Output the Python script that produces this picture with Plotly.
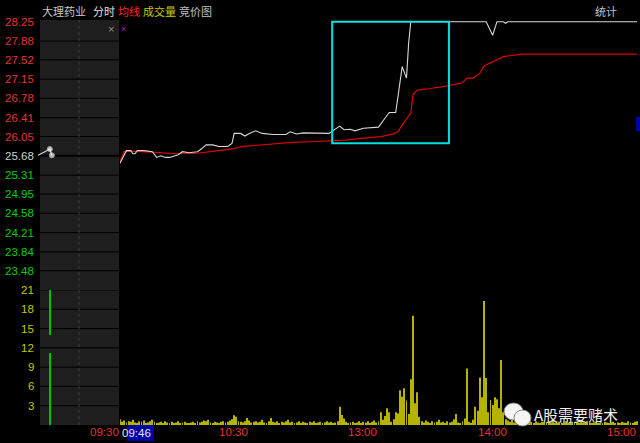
import plotly.graph_objects as go

W, H = 640, 443

# ---------------- data ----------------
STOCK_NAME = "大理药业"
TAB_LABELS = ["分时", "均线", "成交量", "竞价图"]
STAT_LABEL = "统计"
WATERMARK = "A股需要赌术"
PREV_CLOSE = 25.68
PRICE_TICKS = [28.25, 27.88, 27.52, 27.15, 26.78, 26.41, 26.05, 25.68,
               25.31, 24.95, 24.58, 24.21, 23.84, 23.48]
VOL_TICKS = [21, 18, 15, 12, 9, 6, 3]
TIME_TICK_LABELS = ["09:30", "10:30", "13:00", "14:00", "15:00"]
TIME_TICK_POS = [0, 60, 120, 180, 240]          # trading minutes since 09:30
CURSOR_LABEL = "09:46"
CURSOR_POS = 16

# price line (trading minute, price)
PRICE_T = [0, 1, 3, 5, 6, 7, 8, 11, 15, 17, 19, 21, 23, 27, 29, 32, 36, 38, 40, 43,
           46, 50, 52, 53, 56, 58, 60, 63, 66, 71, 77, 79, 82, 85, 91, 97, 102, 104,
           107, 109, 113, 120, 123, 125, 128, 129, 131, 133, 134, 135, 170, 173, 175,
           178, 179, 180, 240]
PRICE_V = [25.54, 25.63, 25.78, 25.78, 25.72, 25.72, 25.78, 25.78, 25.76, 25.65,
           25.68, 25.65, 25.65, 25.70, 25.76, 25.74, 25.76, 25.82, 25.89, 25.89,
           25.86, 25.86, 25.92, 26.11, 26.11, 26.06, 26.11, 26.16, 26.11, 26.09,
           26.09, 26.14, 26.10, 26.12, 26.11, 26.11, 26.25, 26.18, 26.19, 26.16,
           26.21, 26.23, 26.40, 26.51, 26.51, 26.78, 27.39, 27.17, 27.84, 28.25,
           28.25, 27.99, 28.25, 28.25, 28.22, 28.25, 28.25]

# average price line
AVG_T = [0, 2, 5, 11, 15, 26, 36, 42, 53, 57, 65, 73, 80, 88, 97, 105, 113, 121,
         127, 129, 132, 135, 136, 138, 144, 152, 159, 161, 164, 167, 169, 172, 176,
         178, 183, 187, 206, 240]
AVG_V = [25.57, 25.76, 25.77, 25.76, 25.75, 25.72, 25.73, 25.76, 25.82, 25.86,
         25.89, 25.92, 25.94, 25.95, 25.97, 25.98, 26.02, 26.05, 26.10, 26.14,
         26.33, 26.50, 26.85, 26.94, 26.97, 27.02, 27.08, 27.17, 27.17, 27.26,
         27.40, 27.46, 27.53, 27.58, 27.61, 27.63, 27.63, 27.63]

# per-minute volume, minutes 0..240
VOLUME = [
    0.9, 0.5, 0.7, 0.4, 0.6, 0.5, 0.8, 0.4, 0.3, 0.6,
    0.5, 0.7, 0.3, 0.4, 0.6, 0.8, 0.5, 0.3, 0.4, 0.5,
    0.3, 0.6, 0.4, 0.3, 0.5, 0.2, 0.4, 0.6, 0.3, 0.4,
    0.5, 0.3, 0.2, 0.4, 0.5, 0.3, 0.6, 0.4, 0.5, 0.7,
    0.6, 0.8, 0.4, 0.3, 0.5, 0.4, 0.3, 0.5, 0.6, 0.4,
    0.5, 0.7, 0.9, 1.5, 1.3, 0.6, 0.5, 0.4, 0.6, 1.1,
    0.7, 0.4, 0.5, 0.6, 0.4, 0.5, 0.8, 0.4, 0.3, 0.6,
    1.1, 0.5, 0.4, 0.6, 0.3, 0.5, 0.4, 0.6, 0.8, 0.4,
    0.5, 0.3, 0.4, 0.6, 0.3, 0.5, 0.4, 0.3, 0.5, 0.4,
    0.6, 0.3, 0.4, 0.5, 0.3, 0.4, 0.6, 0.4, 0.5, 0.3,
    0.4, 0.6, 2.85, 1.55, 1.0, 0.5, 0.3, 0.4, 0.5, 0.3,
    0.4, 0.6, 0.3, 0.5, 0.4, 0.6, 0.3, 0.5, 0.7, 0.4,
    0.6, 2.0, 0.8, 1.4, 2.6, 2.0, 0.5, 0.9, 2.0, 1.8,
    5.4, 4.4, 5.7, 3.8, 1.7, 7.1, 17.0, 3.4, 5.1, 1.3,
    0.6, 0.4, 0.7, 0.5, 0.3, 0.6, 0.4, 0.5, 0.8, 0.4,
    0.5, 0.3, 0.6, 0.4, 0.5, 0.9, 1.7, 0.4, 0.3, 0.6,
    1.0, 8.8, 0.5, 0.3, 0.8, 2.85, 2.2, 7.4, 4.3, 19.3,
    7.3, 2.0, 3.9, 3.1, 4.3, 4.0, 2.6, 10.1, 2.0, 0.9,
    0.7, 0.5, 0.8, 0.4, 0.6, 0.3, 0.5, 0.4, 0.6, 0.3,
    0.4, 0.5, 0.3, 0.6, 0.4, 0.3, 0.5, 0.4, 0.3, 0.5,
    0.4, 0.6, 0.3, 0.4, 0.5, 0.3, 0.4, 0.6, 0.3, 0.4,
    0.5, 0.3, 0.4, 0.3, 0.5, 0.4, 0.3, 0.6, 0.4, 0.3,
    0.4, 0.5, 0.3, 0.4, 0.3, 0.5, 0.4, 0.3, 0.4, 0.5,
    0.3, 0.4, 0.3, 0.5, 0.4, 0.3, 0.6, 0.4, 0.3, 0.5,
    0.6,
]
MINUTES = list(range(len(VOLUME)))

# call-auction panel
AUCTION_T = [-1, 5, 6]
AUCTION_P = [25.69, 25.81, 25.69]
AUCTION_VOL_BASE = [0.0, 14.0]
AUCTION_VOL_LEN = [11.2, 7.0]

# highlight box (minutes / prices)
BOX_T = [98.5, 152.7]
BOX_P = [25.92, 28.25]

# ---------------- styling helpers ----------------
def px(x):
    return x / W


def py(y):
    return 1 - y / H


RED = "#e83030"
GREEN = "#00d000"
YEL = "#c8c800"
CJK = "Noto Sans CJK SC"
NUMF = "Liberation Sans"

fig = go.Figure()

# volume bars
fig.add_trace(go.Bar(x=MINUTES, y=VOLUME, xaxis="x", yaxis="y2",
                     marker=dict(color="#b4b400", line=dict(width=0)),
                     width=0.42, showlegend=False))
# average price
fig.add_trace(go.Scatter(x=AVG_T, y=AVG_V, mode="lines", xaxis="x", yaxis="y",
                         line=dict(color="#e00000", width=1.2), showlegend=False))
# price
fig.add_trace(go.Scatter(x=PRICE_T, y=PRICE_V, mode="lines", xaxis="x", yaxis="y",
                         line=dict(color="#d8d8d8", width=1.1), showlegend=False))
# auction price
fig.add_trace(go.Scatter(x=AUCTION_T, y=AUCTION_P, mode="lines+markers",
                         xaxis="x2", yaxis="y",
                         line=dict(color="#e0e0e0", width=1.2),
                         marker=dict(color="#ffffff", size=[0, 5, 5]),
                         showlegend=False))
# auction volume
fig.add_trace(go.Bar(x=[5, 5], y=AUCTION_VOL_LEN, base=AUCTION_VOL_BASE,
                     xaxis="x2", yaxis="y2", width=0.6,
                     marker=dict(color="#00c000", line=dict(width=0)),
                     showlegend=False))

P_TOP = PRICE_TICKS[0] + 1.7 / 52.2
P_BOT = PRICE_TICKS[0] - (290 - 21.7) / 52.2

shapes = []
# left panel background
shapes.append(dict(type="rect", xref="paper", yref="paper",
                   x0=px(40), x1=px(119), y0=py(425), y1=py(20),
                   fillcolor="#1e1e1e", line=dict(width=0), layer="below"))
# left panel grid
for t in PRICE_TICKS[1:]:
    shapes.append(dict(type="line", xref="paper", yref="y", x0=px(40), x1=px(119),
                       y0=t, y1=t,
                       line=dict(color="#000000", width=2 if t == PREV_CLOSE else 1),
                       layer="below"))
for v in VOL_TICKS:
    shapes.append(dict(type="line", xref="paper", yref="y2", x0=px(40), x1=px(119),
                       y0=v, y1=v, line=dict(color="#000000", width=1), layer="below"))
shapes.append(dict(type="line", xref="paper", yref="paper", x0=px(79), x1=px(79),
                   y0=py(425), y1=py(20), line=dict(color="#3a3a3a", width=1, dash="dot"),
                   layer="below"))
# highlight box
shapes.append(dict(type="rect", xref="x", yref="y", x0=BOX_T[0], x1=BOX_T[1],
                   y0=BOX_P[0], y1=BOX_P[1], line=dict(color="#00e0e0", width=2)))
# cursor time box
shapes.append(dict(type="rect", xref="paper", yref="paper", x0=px(127), x1=px(154),
                   y0=py(441), y1=py(425), fillcolor="#0000a8", line=dict(width=0)))
# right-edge blue tag
shapes.append(dict(type="rect", xref="paper", yref="paper", x0=px(636), x1=px(640),
                   y0=py(131), y1=py(117), fillcolor="#0000a8", line=dict(width=0)))
# watermark logo bubbles
shapes.append(dict(type="circle", xref="paper", yref="paper", x0=px(504), x1=px(523),
                   y0=py(420), y1=py(403), fillcolor="#f4f4f4",
                   line=dict(color="#888888", width=1)))
shapes.append(dict(type="circle", xref="paper", yref="paper", x0=px(514), x1=px(531),
                   y0=py(426), y1=py(410), fillcolor="#f4f4f4",
                   line=dict(color="#888888", width=1)))

ann = []
for t in PRICE_TICKS:
    col = RED if t > PREV_CLOSE else ("#d0d0d0" if t == PREV_CLOSE else GREEN)
    ann.append(dict(x=px(36), y=t, xref="paper", yref="y", text=f"{t:.2f}",
                    xanchor="right", yanchor="middle", showarrow=False,
                    font=dict(family=NUMF, size=11.5, color=col)))
for v in VOL_TICKS:
    ann.append(dict(x=px(36), y=v, xref="paper", yref="y2", text=str(v),
                    xanchor="right", yanchor="middle", showarrow=False,
                    font=dict(family=NUMF, size=11.5, color=YEL)))
for lab, pos in zip(TIME_TICK_LABELS, TIME_TICK_POS):
    ann.append(dict(x=pos, y=py(432), xref="x", yref="paper", text=lab,
                    xanchor="right", yanchor="middle", showarrow=False, xshift=1,
                    font=dict(family=NUMF, size=11.5, color=RED)))
ann.append(dict(x=CURSOR_POS, y=py(433), xref="x", yref="paper", text=CURSOR_LABEL,
                xanchor="right", yanchor="middle", showarrow=False, xshift=-1,
                font=dict(family=NUMF, size=11.5, color="#e8e8e8")))

# header
hdr = [(STOCK_NAME, 40, "#c8c8c8"), (TAB_LABELS[0], 91, "#e0e0e0"),
       (TAB_LABELS[1], 116, "#ff2020"), (TAB_LABELS[2], 141, YEL),
       (TAB_LABELS[3], 177, "#c0c0c0")]
for txt, x0, col in hdr:
    ann.append(dict(x=px(x0), y=py(11), xref="paper", yref="paper", text=txt,
                    xanchor="left", yanchor="middle", showarrow=False,
                    font=dict(family=CJK, size=11, color=col)))
ann.append(dict(x=px(606), y=py(11), xref="paper", yref="paper", text=STAT_LABEL,
                xanchor="center", yanchor="middle", showarrow=False,
                font=dict(family=CJK, size=11, color="#c0c0c0")))
ann.append(dict(x=px(111), y=py(29), xref="paper", yref="paper", text="×",
                xanchor="center", yanchor="middle", showarrow=False,
                font=dict(family=NUMF, size=11, color="#909090")))
ann.append(dict(x=px(123), y=py(29), xref="paper", yref="paper", text="×",
                xanchor="center", yanchor="middle", showarrow=False,
                font=dict(family=NUMF, size=9, color="#d000d0")))
ann.append(dict(x=px(576), y=py(414), xref="paper", yref="paper", text=WATERMARK,
                xanchor="center", yanchor="middle", showarrow=False,
                font=dict(family=CJK, size=15, color="#f0f0f0")))

fig.update_layout(
    width=W, height=H, margin=dict(l=0, r=0, t=0, b=0),
    paper_bgcolor="#000000", plot_bgcolor="rgba(0,0,0,0)",
    barmode="overlay", showlegend=False,
    xaxis=dict(domain=[px(120), 1], range=[0, 241.4], visible=False, anchor="y2",
               fixedrange=True),
    xaxis2=dict(domain=[px(38), px(119)], range=[-1, 40], visible=False, anchor="y2",
                fixedrange=True),
    yaxis=dict(domain=[py(290), py(20)], range=[P_BOT, P_TOP], visible=False,
               anchor="x", fixedrange=True),
    yaxis2=dict(domain=[py(425), py(290)], range=[0, 21], visible=False,
                anchor="x", fixedrange=True),
    shapes=shapes, annotations=ann,
)

fig.write_html(
    "out.html",
    config={"displayModeBar": False},
    post_script="document.body.style.margin='0';document.body.style.background='#000';",
)
